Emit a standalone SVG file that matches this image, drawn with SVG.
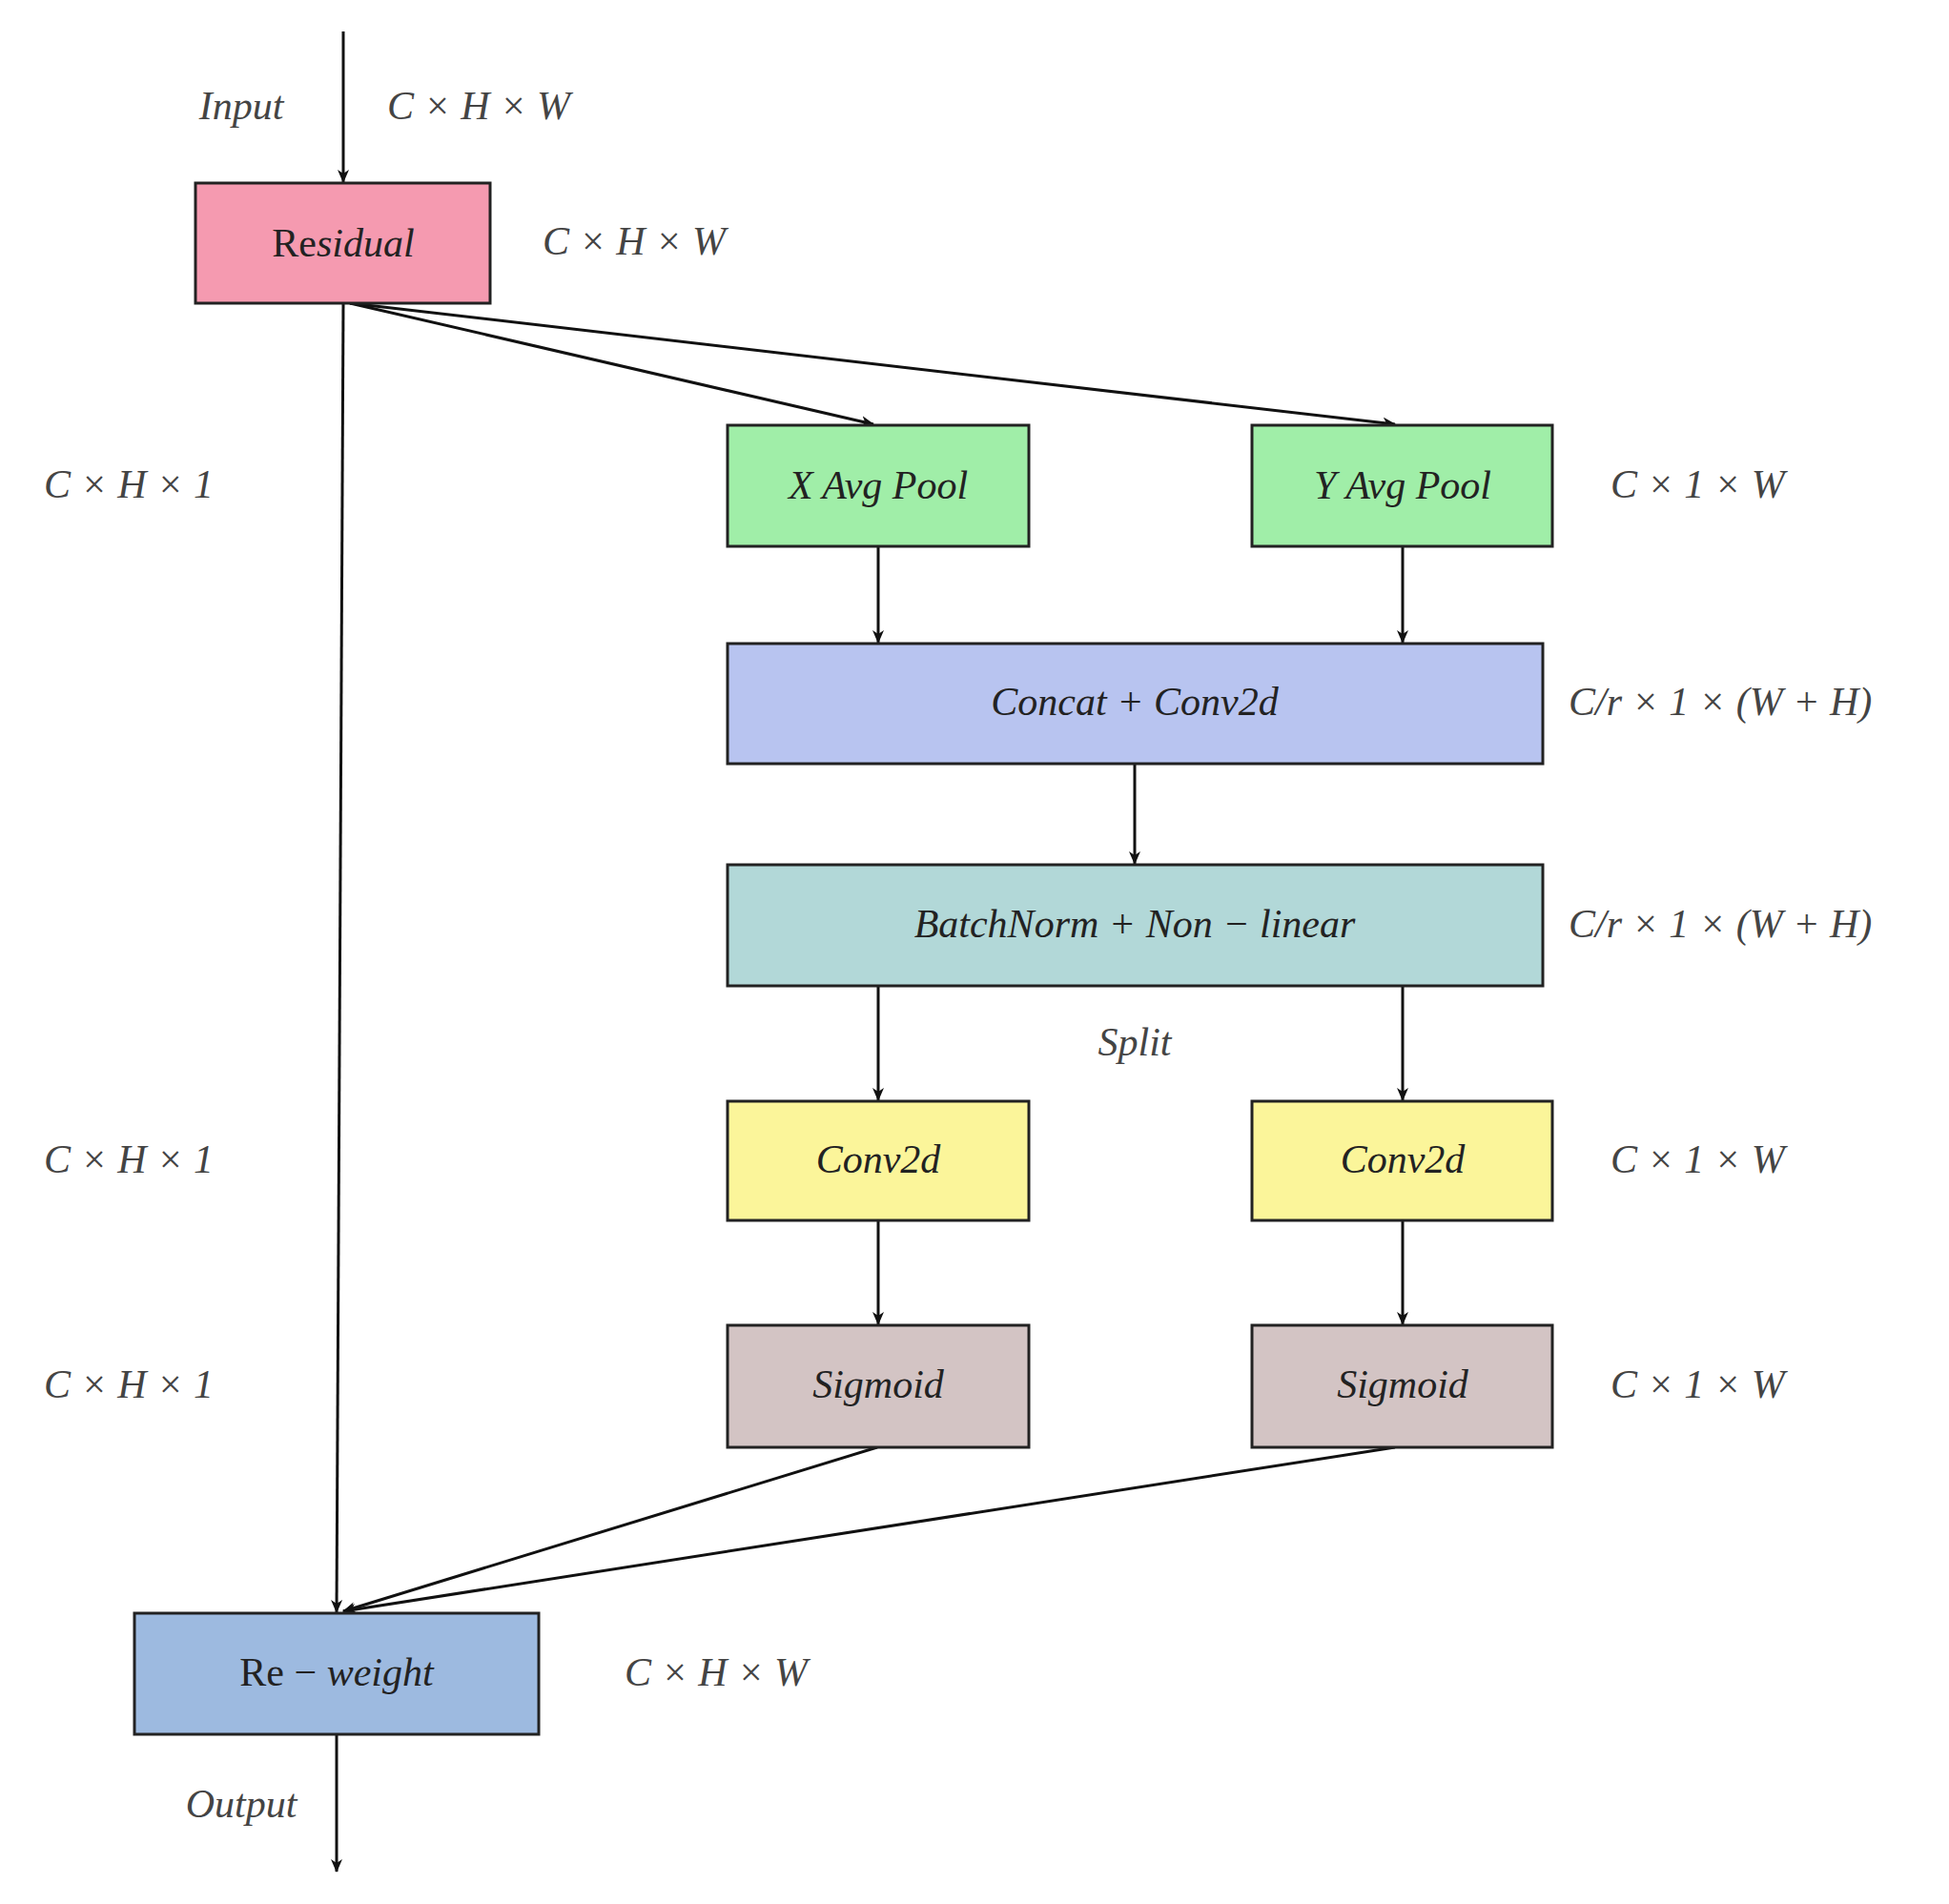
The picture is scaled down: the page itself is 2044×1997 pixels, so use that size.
<svg xmlns="http://www.w3.org/2000/svg" width="2044" height="1997" viewBox="0 0 2044 1997">
<defs>
<marker id="ah" markerWidth="14" markerHeight="12" refX="13" refY="6" orient="auto" markerUnits="userSpaceOnUse"><path d="M0,0 L14,6 L0,12 L4,6 Z" fill="#111"/></marker>
<style>
.box{stroke:#222;stroke-width:3}
.t{font-family:"Liberation Serif",serif;font-style:italic;font-size:42px;fill:#222;text-anchor:middle;dominant-baseline:central}
.l{font-family:"Liberation Serif",serif;font-style:italic;font-size:42px;fill:#444;dominant-baseline:central}
.c{stroke:#111;stroke-width:3;fill:none;marker-end:url(#ah)}
</style>
</defs>
<rect width="2044" height="1997" fill="#fff"/>
<g id="connectors">
<line class="c" x1="360" y1="33" x2="360" y2="191"/>
<line class="c" x1="360" y1="318" x2="353" y2="1691"/>
<line class="c" x1="367" y1="318" x2="916" y2="445"/>
<line class="c" x1="367" y1="318" x2="1463" y2="445"/>
<line class="c" x1="921" y1="573" x2="921" y2="674"/>
<line class="c" x1="1471" y1="573" x2="1471" y2="674"/>
<line class="c" x1="1190" y1="801" x2="1190" y2="906"/>
<line class="c" x1="921" y1="1034" x2="921" y2="1154"/>
<line class="c" x1="1471" y1="1034" x2="1471" y2="1154"/>
<line class="c" x1="921" y1="1280" x2="921" y2="1389"/>
<line class="c" x1="1471" y1="1280" x2="1471" y2="1389"/>
<line class="c" x1="920" y1="1518" x2="360" y2="1690"/>
<line class="c" x1="1463" y1="1518" x2="360" y2="1690"/>
<line class="c" x1="353" y1="1819" x2="353" y2="1963"/>
</g>
<g id="residual"><rect class="box" x="205" y="192" width="309" height="126" fill="#f59ab0"/><text class="t" x="360" y="255"><tspan font-style="normal">Re</tspan>sidual</text></g>
<g id="xpool"><rect class="box" x="763" y="446" width="316" height="127" fill="#a0eea8"/><text class="t" x="921" y="509">X Avg Pool</text></g>
<g id="ypool"><rect class="box" x="1313" y="446" width="315" height="127" fill="#a0eea8"/><text class="t" x="1471" y="509">Y Avg Pool</text></g>
<g id="concat"><rect class="box" x="763" y="675" width="855" height="126" fill="#b8c4f0"/><text class="t" x="1190" y="736">Concat + Conv2d</text></g>
<g id="bn"><rect class="box" x="763" y="907" width="855" height="127" fill="#b2d8d8"/><text class="t" x="1190" y="969">BatchNorm + Non − linear</text></g>
<g id="conv1"><rect class="box" x="763" y="1155" width="316" height="125" fill="#fbf59a"/><text class="t" x="921" y="1216">Conv2d</text></g>
<g id="conv2"><rect class="box" x="1313" y="1155" width="315" height="125" fill="#fbf59a"/><text class="t" x="1471" y="1216">Conv2d</text></g>
<g id="sig1"><rect class="box" x="763" y="1390" width="316" height="128" fill="#d3c4c4"/><text class="t" x="921" y="1452">Sigmoid</text></g>
<g id="sig2"><rect class="box" x="1313" y="1390" width="315" height="128" fill="#d3c4c4"/><text class="t" x="1471" y="1452">Sigmoid</text></g>
<g id="reweight"><rect class="box" x="141" y="1692" width="424" height="127" fill="#9dbae0"/><text class="t" x="353" y="1754"><tspan font-style="normal">Re − </tspan>weight</text></g>
<g id="labels">
<text class="l" x="253" y="111" text-anchor="middle">Input</text>
<text class="l" x="406" y="111">C × H × W</text>
<text class="l" x="569" y="253">C × H × W</text>
<text class="l" x="46" y="508">C × H × 1</text>
<text class="l" x="46" y="1216">C × H × 1</text>
<text class="l" x="46" y="1452">C × H × 1</text>
<text class="l" x="1689" y="508">C × 1 × W</text>
<text class="l" x="1689" y="1216">C × 1 × W</text>
<text class="l" x="1689" y="1452">C × 1 × W</text>
<text class="l" x="1645" y="736">C/r × 1 × (W + H)</text>
<text class="l" x="1645" y="969">C/r × 1 × (W + H)</text>
<text class="l" x="1190" y="1093" text-anchor="middle">Split</text>
<text class="l" x="655" y="1754">C × H × W</text>
<text class="l" x="253" y="1892" text-anchor="middle">Output</text>
</g>
</svg>
